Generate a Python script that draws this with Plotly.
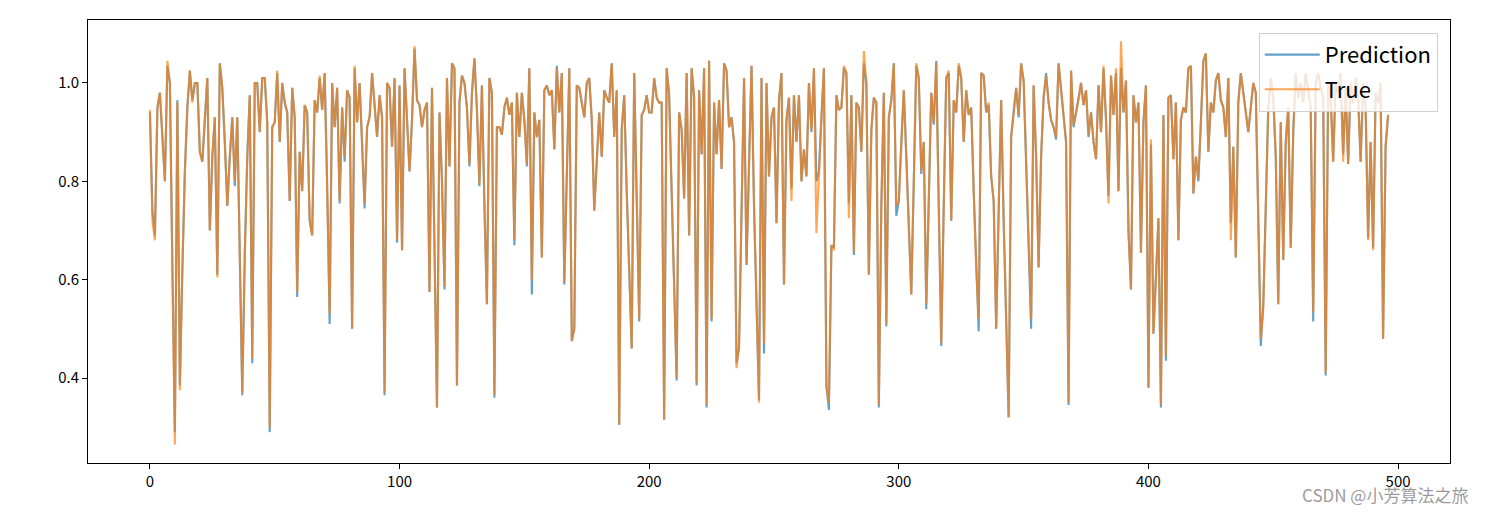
import plotly.graph_objects as go

true_vals = [
    0.945, 0.72, 0.68, 0.95, 0.98, 0.88, 0.80, 1.045, 1.00, 0.62,
    0.265, 0.96, 0.375, 0.62, 0.82, 0.95, 1.025, 0.96, 1.0, 1.0,
    0.86, 0.84, 0.93, 1.01, 0.70, 0.85, 0.93, 0.605, 1.04, 0.99,
    0.88, 0.75, 0.85, 0.93, 0.80, 0.93, 0.65, 0.37, 0.65, 0.85,
    0.975, 0.44, 1.0, 1.0, 0.90, 1.01, 1.01, 0.92, 0.30, 0.91,
    0.92, 1.025, 0.88, 1.0, 0.96, 0.94, 0.76, 0.99, 0.93, 0.575,
    0.86, 0.78, 0.955, 0.94, 0.72, 0.69, 0.965, 0.94, 1.015, 0.945,
    1.02, 0.80, 0.53, 1.0, 0.91, 0.99, 0.76, 0.95, 0.85, 0.985,
    0.97, 0.50, 1.035, 0.92, 1.0, 0.88, 0.755, 0.91, 0.93, 1.02,
    0.95, 0.89, 0.975, 0.93, 0.37, 1.0, 0.99, 0.87, 1.01, 0.68,
    0.995, 0.66, 1.03, 0.925, 0.82, 0.925, 1.075, 0.965, 0.955, 0.91,
    0.945, 0.96, 0.575, 0.99, 0.66, 0.34, 0.94, 0.80, 0.585, 1.01,
    0.83, 1.04, 1.03, 0.385, 0.96, 1.015, 1.0, 0.95, 0.835, 0.98,
    1.05, 0.945, 0.795, 0.995, 0.75, 0.55, 1.01, 0.98, 0.365, 0.91,
    0.91, 0.895, 0.95, 0.97, 0.935, 0.96, 0.68, 0.98, 0.89, 0.98,
    0.925, 0.835, 1.03, 0.60, 0.94, 0.89, 0.925, 0.645, 0.985, 0.995,
    0.975, 0.985, 0.865, 1.03, 0.94, 1.02, 0.595, 0.80, 1.03, 0.475,
    0.50, 0.995, 0.99, 0.96, 0.93, 1.0, 1.01, 0.925, 0.74, 0.84,
    0.94, 0.85, 0.985, 0.97, 0.96, 1.04, 0.89, 0.985, 0.305, 0.905,
    0.975, 0.78, 0.62, 0.46, 1.02, 0.77, 0.52, 0.935, 0.945, 0.975,
    0.94, 0.94, 1.01, 0.97, 0.96, 0.96, 0.315, 1.03, 0.975, 0.78,
    0.58, 0.40, 0.94, 0.905, 0.765, 1.02, 0.69, 1.03, 0.97, 0.39,
    0.985, 0.855, 1.03, 0.345, 1.045, 0.52, 0.96, 0.855, 0.965, 0.825,
    1.04, 1.025, 0.91, 0.93, 0.88, 0.42, 0.47, 0.75, 1.01, 0.63,
    0.85, 1.035, 0.75, 0.55, 0.35, 1.01, 0.47, 1.0, 0.81, 0.93,
    0.95, 0.715, 0.965, 1.02, 0.59, 0.925, 0.97, 0.76, 0.975, 0.88,
    0.975, 0.80, 0.865, 0.81, 1.0, 0.905, 1.03, 0.695, 0.82, 0.93,
    1.03, 0.38, 0.35, 0.67, 0.66, 0.975, 0.945, 0.95, 1.035, 1.02,
    0.725, 0.975, 0.655, 0.96, 0.95, 0.86, 1.065, 1.0, 0.61, 0.905,
    0.97, 0.96, 0.345, 0.75, 0.98, 0.51, 0.93, 0.965, 1.04, 0.75,
    0.76, 0.88, 0.985, 0.85, 0.70, 0.57, 0.80, 1.04, 1.01, 0.82,
    0.88, 0.55, 0.76, 0.98, 0.92, 1.04, 0.75, 0.47, 0.75, 1.01,
    1.025, 0.72, 0.965, 0.94, 1.04, 1.01, 0.88, 0.985, 0.935, 0.95,
    0.78, 0.62, 0.52, 1.02, 1.015, 0.94, 0.96, 0.81, 0.76, 0.50,
    0.75, 0.965, 0.72, 0.50, 0.32, 0.89, 0.94, 0.99, 0.935, 1.04,
    1.005, 0.85, 0.68, 0.52, 0.995, 0.85, 0.625, 0.85, 0.97, 1.015,
    0.96, 0.925, 0.91, 0.89, 1.04, 0.99, 0.93, 0.88, 0.35, 1.025,
    0.915, 0.94, 0.965, 1.0, 0.955, 0.985, 0.895, 0.94, 0.88, 0.845,
    0.995, 0.90, 1.035, 0.925, 0.755, 1.015, 0.935, 1.03, 0.78, 1.085,
    0.94, 1.005, 0.70, 0.58, 0.975, 0.92, 0.96, 0.655, 0.92, 0.995,
    0.38, 0.885, 0.49, 0.60, 0.725, 0.345, 0.935, 0.445, 0.97, 0.975,
    0.845, 0.96, 0.68, 0.925, 0.95, 0.94, 1.03, 1.035, 0.775, 0.85,
    0.805, 0.92, 1.045, 1.06, 0.86, 0.96, 0.94, 1.005, 1.02, 0.965,
    0.95, 0.89, 1.01, 0.68, 0.87, 0.645, 0.96, 1.02, 0.98, 0.95,
    0.90, 0.95, 1.0, 0.98, 0.70, 0.48, 0.54, 0.75, 0.95, 1.01,
    0.97, 0.85, 0.55, 0.92, 0.64, 0.88, 0.95, 0.665, 0.90, 1.02,
    0.97, 1.0, 0.96, 1.02, 0.98, 0.95, 0.535, 1.0, 1.02, 0.99,
    0.97, 0.41, 1.0, 0.97, 0.84, 1.0, 0.98, 1.02, 0.84, 0.99,
    0.835, 1.0, 0.96, 1.01, 0.97, 0.84, 1.0, 0.95, 0.68, 0.88,
    0.66, 0.98, 0.96, 1.0, 0.48, 0.87, 0.935,
]

pred_vals = [
    0.94, 0.74, 0.69, 0.95, 0.98, 0.88, 0.80, 1.035, 1.00, 0.63,
    0.29, 0.965, 0.385, 0.62, 0.82, 0.95, 1.025, 0.965, 1.0, 1.0,
    0.86, 0.84, 0.93, 1.01, 0.70, 0.85, 0.93, 0.61, 1.04, 0.99,
    0.88, 0.75, 0.85, 0.93, 0.79, 0.93, 0.65, 0.365, 0.65, 0.85,
    0.975, 0.43, 1.0, 1.0, 0.90, 1.01, 1.01, 0.92, 0.29, 0.91,
    0.92, 1.02, 0.88, 1.0, 0.96, 0.94, 0.76, 0.99, 0.93, 0.565,
    0.86, 0.78, 0.955, 0.94, 0.72, 0.69, 0.965, 0.94, 1.01, 0.945,
    1.02, 0.80, 0.51, 1.0, 0.91, 0.99, 0.755, 0.95, 0.84, 0.985,
    0.97, 0.50, 1.03, 0.92, 1.0, 0.88, 0.745, 0.91, 0.93, 1.02,
    0.95, 0.89, 0.975, 0.93, 0.365, 1.0, 0.99, 0.87, 1.01, 0.675,
    0.995, 0.66, 1.03, 0.925, 0.82, 0.925, 1.07, 0.965, 0.955, 0.91,
    0.945, 0.96, 0.575, 0.99, 0.66, 0.34, 0.94, 0.80, 0.58, 1.01,
    0.83, 1.04, 1.03, 0.385, 0.96, 1.015, 1.0, 0.95, 0.83, 0.98,
    1.05, 0.945, 0.79, 0.995, 0.75, 0.55, 1.01, 0.98, 0.36, 0.91,
    0.91, 0.895, 0.95, 0.97, 0.935, 0.96, 0.67, 0.98, 0.89, 0.98,
    0.925, 0.83, 1.03, 0.57, 0.94, 0.89, 0.925, 0.645, 0.985, 0.995,
    0.975, 0.985, 0.865, 1.035, 0.94, 1.02, 0.59, 0.80, 1.03, 0.475,
    0.50, 0.995, 0.99, 0.96, 0.93, 1.0, 1.01, 0.925, 0.74, 0.84,
    0.94, 0.85, 0.985, 0.97, 0.96, 1.04, 0.89, 0.985, 0.305, 0.905,
    0.975, 0.78, 0.62, 0.46, 1.02, 0.77, 0.515, 0.935, 0.945, 0.975,
    0.94, 0.94, 1.01, 0.97, 0.96, 0.96, 0.315, 1.03, 0.975, 0.78,
    0.58, 0.395, 0.94, 0.905, 0.765, 1.02, 0.69, 1.03, 0.97, 0.385,
    0.985, 0.855, 1.03, 0.34, 1.045, 0.515, 0.96, 0.855, 0.965, 0.825,
    1.04, 1.025, 0.91, 0.93, 0.88, 0.43, 0.46, 0.75, 1.01, 0.63,
    0.85, 1.035, 0.75, 0.55, 0.355, 1.01, 0.45, 1.0, 0.81, 0.93,
    0.95, 0.715, 0.965, 1.02, 0.59, 0.925, 0.97, 0.785, 0.975, 0.88,
    0.975, 0.80, 0.865, 0.81, 1.0, 0.90, 1.03, 0.80, 0.82, 0.93,
    1.03, 0.385, 0.335, 0.67, 0.665, 0.975, 0.945, 0.95, 1.03, 1.02,
    0.755, 0.975, 0.65, 0.96, 0.95, 0.86, 1.04, 1.0, 0.61, 0.905,
    0.97, 0.96, 0.34, 0.75, 0.98, 0.505, 0.93, 0.965, 1.04, 0.73,
    0.76, 0.88, 0.985, 0.85, 0.70, 0.57, 0.80, 1.035, 1.01, 0.815,
    0.88, 0.54, 0.76, 0.98, 0.915, 1.045, 0.75, 0.465, 0.75, 1.01,
    1.02, 0.72, 0.965, 0.94, 1.035, 1.01, 0.88, 0.985, 0.935, 0.95,
    0.78, 0.62, 0.495, 1.02, 1.015, 0.94, 0.955, 0.81, 0.76, 0.50,
    0.75, 0.965, 0.72, 0.50, 0.32, 0.89, 0.94, 0.99, 0.93, 1.04,
    1.005, 0.85, 0.68, 0.50, 0.995, 0.85, 0.625, 0.85, 0.97, 1.02,
    0.96, 0.925, 0.91, 0.885, 1.04, 0.99, 0.93, 0.88, 0.345, 1.025,
    0.91, 0.94, 0.965, 1.0, 0.955, 0.985, 0.89, 0.94, 0.88, 0.845,
    0.995, 0.90, 1.03, 0.925, 0.77, 1.015, 0.935, 1.02, 0.78, 1.03,
    0.94, 1.005, 0.70, 0.58, 0.975, 0.92, 0.96, 0.655, 0.92, 0.995,
    0.38, 0.875, 0.49, 0.60, 0.725, 0.34, 0.935, 0.435, 0.97, 0.975,
    0.845, 0.96, 0.68, 0.925, 0.95, 0.94, 1.03, 1.035, 0.775, 0.85,
    0.80, 0.92, 1.045, 1.06, 0.86, 0.96, 0.94, 1.005, 1.02, 0.965,
    0.95, 0.89, 1.01, 0.715, 0.87, 0.645, 0.96, 1.02, 0.98, 0.95,
    0.90, 0.95, 1.0, 0.98, 0.70, 0.465, 0.55, 0.75, 0.95, 1.01,
    0.97, 0.85, 0.55, 0.92, 0.64, 0.88, 0.95, 0.665, 0.90, 1.02,
    0.97, 1.0, 0.96, 1.02, 0.98, 0.95, 0.515, 1.0, 1.02, 0.99,
    0.97, 0.405, 1.0, 0.97, 0.84, 1.0, 0.98, 1.02, 0.855, 0.99,
    0.835, 1.0, 0.96, 1.01, 0.97, 0.84, 1.0, 0.95, 0.685, 0.88,
    0.665, 0.98, 0.96, 1.0, 0.48, 0.87, 0.935,
]

x_idx = list(range(len(true_vals)))
x_ticks = [0, 100, 200, 300, 400, 500]
y_ticks = [0.4, 0.6, 0.8, 1.0]
series_names = ["Prediction", "True"]
watermark = "CSDN @小芳算法之旅"

FONT = "Noto Sans CJK JP, Noto Sans, DejaVu Sans, sans-serif"

fig = go.Figure()
fig.add_trace(go.Scatter(
    x=x_idx, y=pred_vals, mode="lines", name=series_names[0], legendgroup="p",
    line=dict(color="rgba(31,119,180,0.7)", width=2.1),
))
fig.add_trace(go.Scatter(
    x=x_idx, y=true_vals, mode="lines", name=series_names[1], legendgroup="t",
    line=dict(color="rgba(255,127,14,0.7)", width=2.1),
))

axis_common = dict(
    showgrid=False, zeroline=False, showline=True, linecolor="black",
    linewidth=1, mirror=True, ticks="outside", ticklen=5, tickwidth=1,
    tickcolor="black", tickfont=dict(family=FONT, size=15, color="black"),
)

fig.update_layout(
    width=1478, height=507,
    margin=dict(l=80, r=36, t=12, b=52),
    paper_bgcolor="white", plot_bgcolor="white",
    font=dict(family=FONT, color="black"),
    xaxis=dict(range=[-24.8, 520.8], tickvals=x_ticks,
               ticktext=[str(v) for v in x_ticks], **axis_common),
    yaxis=dict(range=[0.2272, 1.128], tickvals=y_ticks,
               ticktext=[f"{v:.1f}" for v in y_ticks], **axis_common),
    legend=dict(
        x=0.991, y=0.971, xanchor="right", yanchor="top",
        bgcolor="rgba(255,255,255,0.8)", bordercolor="#d0d0d0", borderwidth=1,
        font=dict(family=FONT, size=22, color="black"),
        itemwidth=55, tracegroupgap=3,
    ),
    showlegend=True,
    annotations=[dict(
        text=watermark, xref="paper", yref="paper",
        x=1.0147, y=-0.072, xanchor="right", yanchor="middle",
        showarrow=False, font=dict(family=FONT, size=17, color="rgba(120,120,120,0.75)"),
    )],
)

fig.write_html("out.html")
